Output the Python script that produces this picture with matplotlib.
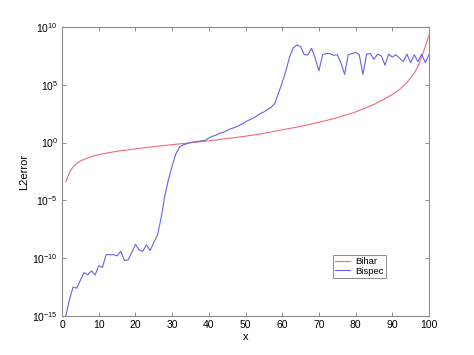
import numpy as np
import matplotlib
matplotlib.use("Agg")
import matplotlib.pyplot as plt
from matplotlib.ticker import FixedLocator, NullLocator

plt.rcParams['font.family'] = ['Liberation Sans', 'DejaVu Sans']

# Bihar error (log10 of value)
bihar_x = [1, 2, 3, 4, 5, 6, 8, 10, 12, 15, 20, 25, 30, 35, 40, 45, 50, 55, 60,
           65, 70, 75, 80, 85, 88, 90, 92, 94, 96, 97, 98, 99, 100]
bihar_log = [-3.4, -2.6, -2.1, -1.8, -1.6, -1.45, -1.2, -1.05, -0.92, -0.75, -0.55,
             -0.35, -0.18, -0.02, 0.15, 0.35, 0.55, 0.8, 1.1, 1.4, 1.75, 2.15, 2.65,
             3.3, 3.8, 4.15, 4.6, 5.2, 6.0, 6.6, 7.4, 8.3, 9.3]

# Bispec error (log10 of value), x = 1..100
bispec_x = list(range(1, 101))
bispec_log = [-15.0, -13.6, -12.5, -12.6, -11.9, -11.25, -11.45, -11.1, -11.45, -10.65,
              -10.8, -9.7, -9.7, -9.7, -9.8, -9.4, -10.2, -10.15, -9.5, -8.8,
              -9.3, -9.4, -8.85, -9.35, -8.65, -8.0, -6.5, -4.6, -3.2, -2.0,
              -1.0, -0.4, -0.2, -0.1, 0.0, 0.05, 0.1, 0.15, 0.2, 0.4,
              0.55, 0.65, 0.8, 0.9, 1.05, 1.2, 1.3, 1.45, 1.6, 1.8,
              1.95, 2.1, 2.3, 2.5, 2.65, 2.85, 3.05, 3.4, 4.3, 5.2,
              6.2, 7.4, 8.2, 8.45, 8.3, 7.6, 7.6, 8.15, 7.3, 6.2,
              7.6, 7.7, 7.7, 7.55, 7.6, 6.9, 5.9, 7.6, 7.7, 7.8,
              7.6, 5.9, 7.65, 7.7, 7.2, 7.65, 7.5, 6.7, 7.65, 7.4,
              7.6, 7.3, 7.0, 7.65, 6.9, 7.6, 7.0, 7.65, 6.9, 7.6]

yticks = [1e-15, 1e-10, 1e-5, 1e0, 1e5, 1e10]
xticks = [0, 10, 20, 30, 40, 50, 60, 70, 80, 90, 100]

fig = plt.figure(figsize=(4.74, 3.55), dpi=100)
ax = fig.add_axes([0.131, 0.110, 0.774, 0.814])

ax.semilogy(bihar_x, 10.0 ** np.array(bihar_log), color='#f26a78', lw=0.8, label='Bihar')
ax.semilogy(bispec_x, 10.0 ** np.array(bispec_log), color='#6464e6', lw=0.8, label='Bispec')

ax.set_xlim(0, 100)
ax.set_ylim(1e-15, 1e10)
ax.xaxis.set_major_locator(FixedLocator(xticks))
ax.yaxis.set_major_locator(FixedLocator(yticks))
ax.yaxis.set_minor_locator(NullLocator())

for s in ax.spines.values():
    s.set_color('#8c8c8c')
    s.set_linewidth(0.8)
ax.tick_params(direction='in', top=True, right=True, length=3, width=0.7,
               color='#8c8c8c', labelsize=7.5, pad=3)

ax.set_xlabel('x', fontsize=8, labelpad=1)
ax.set_ylabel('L2error', fontsize=8, labelpad=2)

leg = ax.legend(loc='upper left', bbox_to_anchor=(0.738, 0.212), fontsize=6.8,
                handlelength=1.6, borderpad=0.25, labelspacing=0.05,
                handletextpad=0.5, borderaxespad=0.0, fancybox=False, framealpha=1)
leg.get_frame().set_edgecolor('#8c8c8c')
leg.get_frame().set_linewidth(0.7)

fig.savefig('out.png', dpi=100)
